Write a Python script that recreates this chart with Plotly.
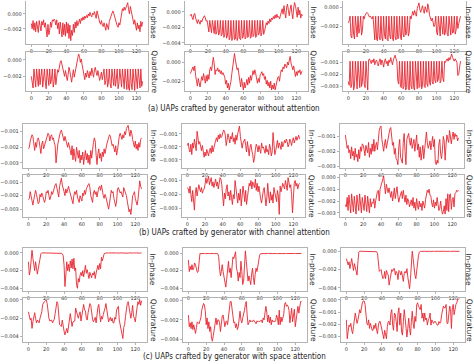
import plotly.graph_objects as go

# ---------------- data (values in units of 1e-4) ----------------
SCALE = 1e-4
X = list(range(128))

A_INPHASE_1 = [-13,-20,-9,-22,-12,-24,-10,-19,-25,-9,-16,-23,-10,-15,-8,-18,
               -12,-24,-31,-14,-28,-22,-11,-18,-8,-10,-7,-9,-15,-8,-20,-12,
               -27,-11,-24,-31,-12,-28,-14,-30,-11,-26,-13,-33,-15,-36,-22,-29,
               -14,-25,-11,-19,-9,-16,-12,-7,-13,-6,-9,-4,-8,-3,-6,-2,
               -5,0,-3,2,-2,-4,1,-1,3,-3,-6,4,-2,-8,-11,-14,
               -9,-15,-17,-12,-19,-22,-13,-17,-21,-10,-6,-1,2,4,1,-4,
               -9,-13,-16,-18,-12,-15,-6,2,7,4,9,5,8,12,15,6,
               0,10,3,-4,-9,-14,-8,-18,-22,-12,-20,-15,-24,-10,-17,-11]
A_QUAD_1 = [-20,-29,-34,-11,-28,-33,-11,-25,-32,-11,-30,-19,-11,-33,-24,-11,
            -27,-35,-11,-22,-31,-11,-29,-24,-11,-33,-26,-11,-30,-21,-12,-15,
            -8,-3,-1,-6,-11,-16,-20,-13,-21,-25,-18,-9,-14,-22,-27,-19,
            -12,-21,-15,-5,-2,2,7,4,-3,1,-6,-12,-19,-24,-16,-21,
            -13,-18,-22,-14,-19,-10,-17,-21,-12,-9,-15,-19,-13,-22,-25,-20,
            -15,-24,-18,-11,-30,-25,-11,-33,-27,-11,-29,-34,-11,-26,-31,-11,
            -32,-24,-11,-35,-28,-11,-30,-33,-11,-27,-35,-11,-31,-36,-11,-34,
            -37,-11,-29,-36,-11,-33,-37,-11,-30,-35,-11,-28,-34,-11,-32,-26]
A_INPHASE_2 = [-5,-3,-7,-10,-4,-2,-8,-12,-15,-10,-14,-16,-11,-13,-9,-6,
               -5,-8,-12,-11,-22,-26,-11,-24,-27,-11,-25,-28,-11,-29,-26,-11,
               -30,-27,-11,-31,-29,-11,-33,-30,-11,-34,-31,-11,-36,-33,-11,-37,
               -34,-11,-36,-35,-11,-37,-33,-11,-35,-36,-11,-34,-32,-11,-35,-33,
               -11,-33,-31,-11,-34,-32,-11,-32,-30,-11,-33,-31,-11,-30,-28,-11,
               -31,-27,-11,-29,-25,-19,-14,-17,-12,-15,-9,-13,-8,-10,-6,-9,
               -4,-8,-3,-7,-6,-9,-5,-2,4,-3,8,-1,-8,6,10,2,
               -5,3,9,-2,-9,5,12,8,-1,-7,6,-4,2,-8,-3,-5]
A_QUAD_2 = [-12,-10,-8,-5,-9,-4,-14,-19,-25,-17,-22,-26,-20,-15,-19,-12,
            -17,-22,-14,-20,-13,-18,-8,-5,-9,-2,5,-1,-13,-8,-9,-6,
            -10,-8,-12,-9,-13,-11,-14,-16,-23,-19,-27,-22,-29,-25,-20,-12,
            -3,4,9,2,-4,-8,-6,-15,-20,-26,-17,-24,-29,-21,-27,-23,
            -18,-24,-16,-22,-14,-19,-11,-9,-13,-8,-12,-19,-22,-17,-21,-14,
            -12,-10,-14,-12,-18,-15,-23,-19,-25,-21,-27,-20,-29,-24,-28,-22,
            -29,-25,-19,-16,-15,-20,-12,-8,-10,-5,-7,-2,-4,-6,0,-3,
            2,6,-1,-5,-8,-4,-12,-15,-10,-14,-9,-11,-8,-13,-10,-9]
A_INPHASE_3 = [-16,-14,-9,-30,-32,-9,-28,-33,-9,-25,-31,-9,-27,-22,-9,-29,
               -24,-9,-12,-8,-6,-5,-6,-8,-10,-9,-11,-12,-9,-30,-34,-9,
               -33,-35,-9,-31,-34,-9,-32,-35,-9,-29,-33,-9,-34,-35,-9,-30,
               -33,-9,-32,-35,-9,-31,-34,-9,-33,-32,-9,-30,-34,-9,-28,-31,
               -9,-29,-27,-9,-30,-26,-9,-12,-7,-4,-8,-3,-6,-9,-1,2,
               5,-2,-5,-1,2,-3,-6,1,-2,-5,4,0,-8,-12,-14,-11,
               -16,-20,-18,-9,-26,-29,-9,-27,-30,-9,-24,-28,-9,-29,-26,-9,
               -28,-30,-9,-25,-29,-9,-27,-26,-9,-28,-24,-9,-22,-17,-12,-9]
A_QUAD_3 = [-26,-29,-9,-31,-28,-9,-33,-30,-9,-29,-32,-9,-27,-31,-9,-30,
            -26,-9,-28,-31,-9,-29,-33,-8,-7,-9,-11,-8,-10,-7,-12,-9,
            -8,-11,-13,-9,-7,-12,-8,-10,-14,-9,-7,-11,-9,-13,-8,-10,
            -6,-9,-12,-8,-5,-4,-7,-9,-25,-28,-9,-30,-31,-9,-32,-30,
            -9,-33,-31,-9,-32,-33,-9,-30,-32,-9,-31,-33,-9,-29,-32,-9,
            -31,-30,-9,-32,-29,-9,-30,-31,-9,-28,-30,-9,-27,-29,-9,-26,
            -28,-9,-25,-27,-9,-26,-24,-9,-27,-25,-9,-23,-26,-9,-10,-8,
            -7,-9,-6,-8,-5,-3,-6,-8,-9,-7,-8,-10,-21,-20,-14,-9]

B_INPHASE_1 = [-21,-20,-16,-14,-12,-13,-18,-22,-17,-20,-15,-14,-16,-19,-24,-18,
               -16,-21,-19,-17,-14,-13,-11,-12,-16,-13,-12,-15,-14,-17,-19,-30,
               -22,-18,-15,-12,-10,-9,-12,-14,-16,-13,-15,-18,-20,-17,-19,-22,
               -25,-19,-28,-21,-26,-29,-20,-24,-27,-22,-30,-25,-28,-23,-31,-26,
               -22,-28,-24,-30,-25,-31,-22,-27,-20,-17,-14,-16,-25,-31,-24,-21,
               -27,-24,-29,-23,-26,-21,-24,-20,-18,-16,-14,-12,-13,-16,-19,-18,
               -21,-23,-19,-25,-22,-16,-13,-11,-14,-15,-12,-14,-10,-12,-8,-7,
               -6,-10,-13,-9,-11,-15,-17,-20,-16,-21,-18,-22,-17,-20,-15,-14]
B_QUAD_1 = [-23,-22,-17,-21,-26,-27,-23,-18,-16,-19,-24,-26,-25,-19,-21,-18,
            -20,-24,-25,-23,-17,-18,-16,-20,-23,-21,-17,-19,-16,-14,-12,-11,
            -15,-18,-21,-13,-10,-7,-12,-16,-17,-20,-15,-18,-14,-13,-16,-19,
            -22,-25,-26,-20,-17,-19,-16,-21,-23,-25,-20,-22,-24,-18,-20,-16,
            -19,-15,-13,-12,-11,-14,-20,-22,-25,-18,-16,-19,-17,-21,-15,-14,
            -13,-16,-12,-18,-20,-22,-19,-21,-25,-27,-30,-26,-20,-16,-18,-17,
            -22,-26,-28,-24,-15,-14,-16,-18,-17,-19,-21,-14,-16,-18,-20,-24,
            -29,-32,-30,-34,-28,-20,-19,-17,-22,-25,-27,-23,-16,-9,-13,-15]
B_INPHASE_2 = [-19,-17,-22,-24,-18,-26,-17,-21,-14,-20,-23,-8,-12,-18,-16,-20,
               -23,-19,-26,-28,-24,-27,-22,-25,-27,-23,-21,-25,-19,-24,-20,-17,
               -15,-13,-16,-11,-14,-10,-13,-12,-9,-7,-8,-11,-19,-15,-10,-13,
               -17,-12,-14,-9,-16,-13,-18,-11,-15,-10,-6,-4,-12,-19,-21,-17,
               -15,-14,-19,-24,-16,-22,-27,-20,-18,-23,-26,-32,-29,-22,-18,-20,
               -24,-19,-22,-25,-17,-21,-20,-23,-25,-19,-24,-22,-26,-18,-21,-27,
               -24,-9,-20,-26,-23,-18,-15,-21,-17,-19,-22,-16,-20,-18,-15,-17,
               -14,-16,-20,-18,-14,-16,-19,-15,-13,-17,-14,-12,-15,-13,-11,-14]
B_QUAD_2 = [-15,-16,-19,-14,-20,-25,-17,-22,-31,-19,-15,-21,-18,-13,-16,-18,
            -15,-19,-17,-16,-13,-8,-12,-9,-7,-13,-10,-8,-14,-11,-15,-12,
            -9,-14,-11,-16,-10,-8,-9,-13,-21,-28,-19,-23,-16,-13,-21,-18,
            -24,-17,-22,-27,-20,-23,-10,-15,-22,-26,-19,-24,-16,-28,-21,-14,
            -19,-25,-17,-27,-22,-18,-12,-14,-10,-16,-11,-13,-15,-9,-17,-12,
            -18,-14,-20,-23,-26,-19,-17,-15,-25,-28,-22,-12,-21,-26,-18,-24,
            -20,-26,-15,-19,-22,-25,-17,-21,-34,-14,-18,-15,-12,-14,-16,-10,
            -13,-17,-8,-12,-15,-13,-20,-33,-22,-12,-10,-14,-12,-16,-13,-12]
B_INPHASE_3 = [-9,-15,-18,-16,-21,-19,-25,-17,-23,-20,-26,-18,-24,-22,-27,-19,
               -25,-17,-20,-15,-16,-19,-23,-16,-20,-21,-14,-24,-18,-22,-15,-20,
               -12,-20,-16,-14,-19,-8,-6,-4,-3,-12,-17,-20,-15,-12,-18,-14,
               -10,-7,-5,-4,-10,-16,-14,-22,-18,-25,-26,-29,-17,-12,-24,-27,
               -28,-14,-8,-20,-29,-12,-9,-8,-13,-16,-11,-18,-15,-12,-20,-14,
               -9,-19,-15,-24,-17,-26,-21,-16,-25,-19,-11,-7,-14,-18,-16,-13,
               -19,-15,-10,-17,-12,-27,-29,-26,-28,-15,-12,-22,-25,-19,-10,-13,
               -26,-16,-9,-12,-14,-6,-11,-15,-10,-7,-12,-8,-10,-9,-13,-11]
B_QUAD_3 = [-23,-25,-17,-28,-15,-26,-30,-14,-24,-29,-16,-27,-31,-15,-25,-28,
            -14,-26,-30,-17,-24,-28,-15,-27,-29,-16,-23,-30,-18,-25,-21,-22,
            -18,-26,-20,-15,-12,-11,-20,-10,-7,-6,-3,1,-7,-14,-6,-11,
            -13,-9,-13,-17,-12,-20,-15,-9,-18,-11,-8,-16,-21,-17,-14,-12,
            -18,-11,-16,-21,-15,-23,-18,-20,-25,-22,-19,-24,-17,-26,-21,-28,
            -18,-24,-27,-20,-25,-22,-28,-20,-24,-26,-19,-14,-11,-13,-10,-15,
            -16,-22,-25,-19,-26,-21,-24,-17,-23,-28,-26,-20,-27,-31,-29,-24,
            -31,-18,-28,-14,-29,-15,-14,-27,-19,-17,-25,-14,-13,-11,-12,-11]

C_INPHASE_1 = [-10,-25,-20,-8,3,-6,-14,-20,-10,-15,-24,-18,-12,-4,-1,0,
               0,-0.2,0,-0.3,0,-0.1,0,-0.2,-0.3,0,-0.1,-0.2,0,-0.3,-0.1,0,
               -0.2,0,-0.1,-0.3,0,-0.5,-1,-3,-14,-38,-25,-10,-20,-13,-21,-9,
               -17,-7,-18,-6,-20,-17,-36,-40,-29,-33,-25,-22,-26,-20,-27,-19,
               -14,-23,-19,-24,-29,-22,-26,-28,-23,-25,-21,-29,-23,-17,-14,-19,
               -12,-18,-5,-9,-3,-1,-0.3,0,-0.2,0,-0.1,0,-0.3,0,-0.2,-0.1,
               0,-0.2,0,-0.1,-0.3,0,-0.2,0,-0.1,0,-0.3,-0.1,0,-0.2,0,-0.1,
               -0.3,0,-0.2,-0.1,0,-0.2,0,-0.4,-0.1,0,-0.2,0,-0.1,-0.3,0,-0.1]
C_QUAD_1 = [-13,-18,-22,-20,-31,-24,-18,-14,-20,-25,-22,-24,-25,-20,-16,-13,
            -5,-3,-2,-1,0,-4,-13,-20,-23,-22,-22,-25,-23,-21,-15,-8,
            -2,-4,-23,-27,-28,-29,-22,-30,-34,-38,-33,-31,-36,-27,-20,-15,
            -22,-29,-24,-23,-23,-9,-14,-18,-20,-16,-13,-23,-18,-13,-5,-11,
            -12,-20,-22,-14,-9,-4,-6,-18,-21,-24,-22,-19,-25,-15,-8,-5,
            -19,-24,-18,-21,-16,-10,-9,-4,-12,-20,-24,-21,-19,-23,-20,-25,
            -25,-19,-21,-11,-9,-7,-22,-27,-33,-35,-42,-30,-27,-18,-6,-4,
            -2,-9,-16,-20,-14,-6,-18,-20,-24,-13,-8,-2,-5,0,-6,-1]
C_INPHASE_2 = [-7.5,-21,-15,-19,-13,-19,-17,-11,-13,-19,-22,-21,-6,0,-0.2,0,
               0,-0.1,0,-0.2,0,0,-0.1,0,-0.2,0,-0.1,0,0,-0.2,0,-0.1,
               0,-0.3,-3.7,-17,-26,-21,-13,-21,-28,-34,-39,-30,-19,-9,-22,-17,
               -28,-13,-4,-6,-2,2,-17,-21,-32,-22,-28,-9,-21,-36,-32,-13,
               3,-9,-21,-32,-26,-30,-36,-24,-17,-28,-36,-24,-17,-21,-13,-6,
               -2,-0.4,0,-0.1,0,-0.2,0,0,-0.1,0,-0.2,0,-0.1,0,0,-0.2,
               0,-0.1,0,0,-0.2,0,-0.1,0,0,-0.2,0,-0.1,0,0,-0.1,0,
               -0.2,0,0,-0.1,0,-0.2,0,0,-0.1,0,0,-0.2,0,-0.1,0,0]
C_QUAD_2 = [-15,-27,-23,-29,-22,-30,-25,-31,-34,-28,-22,-23,-24,-21,-18,-10,
            -4.5,-3,-4.5,-11,-25,-18,-29,-22,-32,-27,-39,-42,-36,-30,-22,-18,
            -25,-20,-20,-23,-32,-20,-16,-15,-23,-27,-22,-21,-25,-16,-8,-1,
            -1,-8,-20,-23,-22,-28,-24,-30,-27,-18,-11,-20,-23,-18,-15,-10,
            -4,-1,-15,-25,-23,-20,-22,-21,-22,-20,-21,-22,-24,-21,-22,-21,
            -22,-21,-20,-23,-18,-20,-11,-6,-12,-22,-15,-23,-17,-25,-20,-22,
            -21,-22,-21,-15,-18,-25,-10,-25,-17,-22,-18,-15,-4,-2,-6,-4.5,
            -6,-10,-23,-15,-8,-22,-13,-9,-27,-18,-10,-6,-13,-3,-1,-1]
C_INPHASE_3 = [-8,-13.5,-15,-11.6,-19,-13.5,-8,-15,-21,-13.5,-17,-22.5,-26,-11.6,-1,0,
               0,-0.1,0,-0.2,0,0,-0.1,0,-0.2,0,0,-0.1,0,-0.2,0,0,
               0,-0.2,-0.5,-2.5,-17,-22,-21,-20,-26,-30,-29,-22,-30,-21,-24,-26,
               -37,-30,-22,-20,-22,-19,-19,-26,-22,-24,-31,-21,-22,-26,-22,-28,
               -33,-24,-22,-24,-19,-28,-33,-41,-30,-12,0,-8,-21,-26,-30,-19,
               -12,-4.4,-1,0,-0.2,0,-0.1,0,0,-0.2,0,-0.1,0,0,-0.2,0,
               -0.1,0,0,-0.2,0,-0.1,0,0,-0.1,0,-0.2,0,0,-0.1,0,0,
               -0.2,0,-0.1,0,0,-0.2,0,-0.1,0,0,-0.1,0,-0.2,0,0,-0.1]
C_QUAD_3 = [-16.4,-32,-26,-20.7,-22,-19.3,-25,-27.8,-22,-17.8,-10.8,-15,-19.3,-16.4,-9.3,-8,
            -10.8,-3.7,-2.3,-0.85,-0.85,-3.7,-12.2,-19.3,-20.7,-16.4,-23.5,-19.3,-22,-25,-25,-20.7,
            -23.5,-19.3,-25,-27.8,-20.7,-17.8,-17.8,-22,-26,-30,-32,-25,-29,-32,-22,-17.8,
            -17.8,-20.7,-10.8,-8,-20.7,-25,-10.8,-12,-17.8,-26,-10.8,-6.5,-20.7,-10.8,-26.3,-29,
            -17.8,-8,-15,-27,-30.6,-23.5,-15,-23.5,-29,-17.8,-9.3,-19.3,-23.5,-13.6,-17.8,-3.7,
            -2.3,-5.1,-6.5,-8,-3.7,-15,-10.8,-17.8,-10.8,-16.4,-15,-20.7,-16.4,-15,-10.8,-20.7,
            -16.4,-17.8,-19.3,-17.8,-17.8,-19.3,-20.7,-20.7,-17.8,-19.3,-18,-12.2,-6.5,-5,-6.5,-6.5,
            -3.7,-19.3,-19.3,-8,-5,-8,-23.5,-6.5,-3.7,-12.2,-6.5,-3.7,-2.3,0.6,0.6,1]

X_TICKS = [0, 20, 40, 60, 80, 100, 120]
ROW_LABELS = ["In-phase", "Quadrature"]
CAPTIONS = ["(a) UAPs crafted by generator without attention",
            "(b) UAPs crafted by generator with channel attention",
            "(c) UAPs crafted by generator with space attention"]

SERIES = [
    [A_INPHASE_1, A_INPHASE_2, A_INPHASE_3],
    [A_QUAD_1, A_QUAD_2, A_QUAD_3],
    [B_INPHASE_1, B_INPHASE_2, B_INPHASE_3],
    [B_QUAD_1, B_QUAD_2, B_QUAD_3],
    [C_INPHASE_1, C_INPHASE_2, C_INPHASE_3],
    [C_QUAD_1, C_QUAD_2, C_QUAD_3],
]
Y_TICKS = [
    [[0, -20], [0, -20, -40], [0, -20]],
    [[0, -20], [0, -20], [-10, -20, -30]],
    [[-10, -20, -30], [-10, -20, -30], [-10, -20, -30]],
    [[-10, -20, -30], [-10, -20, -30], [0, -10, -20, -30]],
    [[0, -20, -40], [0, -20, -40], [0, -20, -40]],
    [[0, -20, -40], [0, -20, -40], [0, -10, -20, -30]],
]

# ---------------- layout geometry (pixels) ----------------
W, H = 474, 364
Y_RANGES = [
    [(-40, 17.3), (-41, 14), (-38, 7)],
    [(-38, 10), (-30.4, 11), (-34, -1)],
    [(-33, -5.1), (-36, -2.4), (-31, -1.6)],
    [(-36, -4.3), (-36, -5.8), (-33.6, 2.2)],
    [(-42.6, 5.6), (-43, 6.4), (-43, 3.6)],
    [(-46, 2.5), (-43, 3.1), (-34.8, 2)],
]
ROW_PX = [(0, 43), (51, 91), (124, 168), (175, 218), (249, 292), (299, 344)]
COL_PX = [
    [(20, 144), (181, 306), (341, 466)],
    [(17, 143), (178, 303), (338, 464)],
    [(17, 143), (179, 305), (339, 465)],
]
CAPTION_Y = [108, 233, 358]

LINE_COLOR = "rgb(232,38,48)"
FRAME = "#b3b3b3"
TICKFONT = dict(family="DejaVu Sans", size=5, color="#333")

fig = go.Figure()
layout = {}
annotations = []
n = 0
for r in range(6):
    g = r // 2
    for c in range(3):
        n += 1
        xa = "xaxis" if n == 1 else f"xaxis{n}"
        ya = "yaxis" if n == 1 else f"yaxis{n}"
        xr = "x" if n == 1 else f"x{n}"
        yr = "y" if n == 1 else f"y{n}"
        x0, x1 = COL_PX[g][c]
        top, bot = ROW_PX[r]
        vals = SERIES[r][c]
        fig.add_trace(go.Scatter(x=X, y=[v * SCALE for v in vals], mode="lines",
                                 line=dict(color=LINE_COLOR, width=0.9),
                                 xaxis=xr, yaxis=yr, showlegend=False,
                                 hoverinfo="skip"))
        layout[xa] = dict(domain=[x0 / W, x1 / W], anchor=yr, range=[-6.35, 133.35],
                          tickvals=X_TICKS, showgrid=False, zeroline=False,
                          showline=True, linecolor=FRAME, linewidth=1,
                          mirror=(r != 0), ticks="outside", ticklen=2,
                          tickcolor=FRAME, tickfont=TICKFONT)
        lo, hi = Y_RANGES[r][c]
        tv = Y_TICKS[r][c]
        layout[ya] = dict(domain=[1 - bot / H, 1 - top / H], anchor=xr,
                          range=[lo * SCALE, hi * SCALE],
                          tickvals=[t * SCALE for t in tv], tickformat=".3f",
                          showgrid=False, zeroline=False, showline=True,
                          linecolor=FRAME, linewidth=1, mirror=True,
                          ticks="outside", ticklen=2, tickcolor=FRAME,
                          tickfont=TICKFONT)
        annotations.append(dict(text=ROW_LABELS[r % 2], textangle=90,
                                x=min(x1 + 6, 469) / W, y=1 - (top + bot) / 2 / H,
                                xref="paper", yref="paper", showarrow=False,
                                xanchor="center", yanchor="middle",
                                font=dict(family="DejaVu Sans", size=7.5, color="#222")))

for g in range(3):
    annotations.append(dict(text=CAPTIONS[g], x=231 / W, y=1 - CAPTION_Y[g] / H,
                            xref="paper", yref="paper", showarrow=False,
                            xanchor="center", yanchor="middle",
                            font=dict(family="DejaVu Sans Condensed, Liberation Sans Narrow, sans-serif",
                                      size=8, color="#222")))

fig.update_layout(width=W, height=H, margin=dict(l=0, r=0, t=0, b=0),
                  paper_bgcolor="white", plot_bgcolor="white",
                  annotations=annotations, **layout)
fig.write_html("out.html", config={"displayModeBar": False},
               post_script="document.body.style.margin='0';")
